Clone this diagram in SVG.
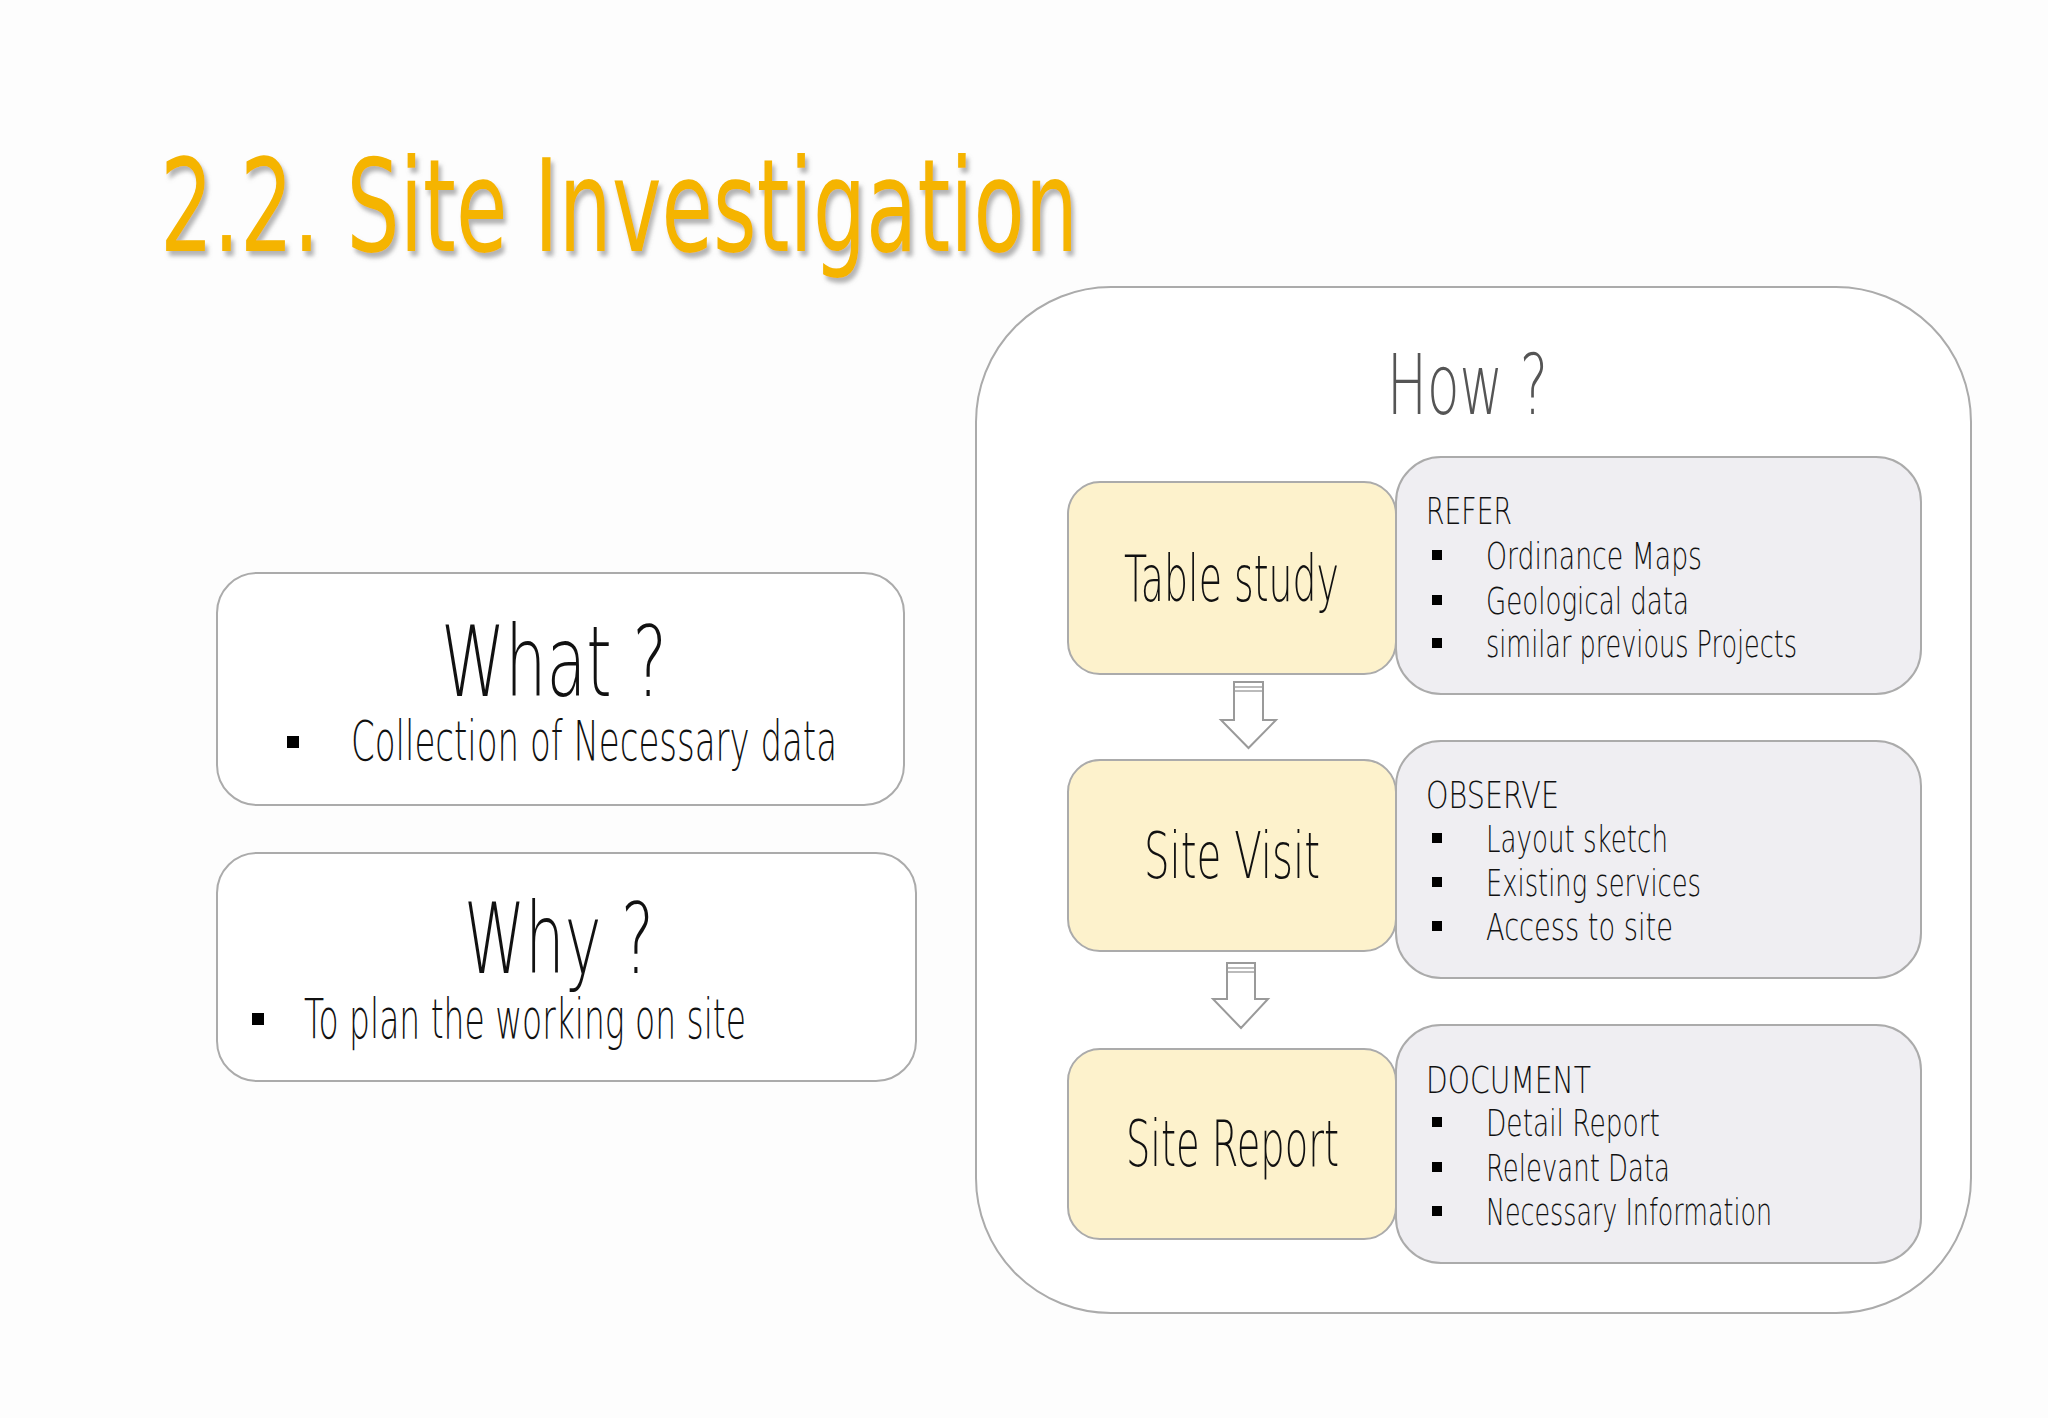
<svg xmlns="http://www.w3.org/2000/svg" width="2048" height="1418" viewBox="0 0 2048 1418">
<style>
.hand{font-family:"DejaVu Sans","Liberation Sans",sans-serif;font-weight:200;fill:#111}
.item{font-size:38px}
.box{fill:#ffffff;stroke:#ababab;stroke-width:2}
.step{fill:#fdf2cc;stroke:#ababab;stroke-width:2}
.info{fill:#efeef2;stroke:#ababab;stroke-width:2}
.arrow{fill:#ffffff;stroke:#9a9a9a;stroke-width:2;stroke-linejoin:miter}
.bul{fill:#000}
</style>
<defs>
<filter id="shadow" x="-5%" y="-20%" width="110%" height="150%">
<feDropShadow dx="3" dy="5" stdDeviation="2" flood-color="#777" flood-opacity="0.55"/>
</filter>
</defs>
<rect width="2048" height="1418" fill="#fdfdfd"/>
<g id="title">
<text x="160" y="251" font-family="DejaVu Sans, sans-serif" font-size="128" fill="#f5b400" textLength="918" lengthAdjust="spacingAndGlyphs" filter="url(#shadow)">2.2. Site Investigation</text>
</g>
<g id="what">
<rect class="box" x="217" y="573" width="687" height="232" rx="40"/>
<text class="hand" x="441" y="696" font-size="98" textLength="226" lengthAdjust="spacingAndGlyphs">What ?</text>
<rect class="bul" x="287" y="736" width="12" height="12"/>
<text class="hand" x="351" y="760" font-size="55" textLength="486" lengthAdjust="spacingAndGlyphs">Collection of Necessary data</text>
</g>
<g id="why">
<rect class="box" x="217" y="853" width="699" height="228" rx="40"/>
<text class="hand" x="464" y="973" font-size="98" textLength="190" lengthAdjust="spacingAndGlyphs">Why ?</text>
<rect class="bul" x="252" y="1013" width="12" height="12"/>
<text class="hand" x="304" y="1038" font-size="55" textLength="442" lengthAdjust="spacingAndGlyphs">To plan the working on site</text>
</g>
<g id="how">
<rect class="box" x="976" y="287" width="995" height="1026" rx="135"/>
<text class="hand" x="1387" y="414" font-size="84" style="fill:#555" textLength="161" lengthAdjust="spacingAndGlyphs">How ?</text>
</g>
<g id="connectors">
<g id="arrow1">
<polygon class="arrow" points="1234,682 1263,682 1263,720 1276,720 1248.5,748 1221,720 1234,720"/>
<line x1="1235" y1="687" x2="1262" y2="687" stroke="#bbb" stroke-width="2"/>
<line x1="1235" y1="691" x2="1262" y2="691" stroke="#bbb" stroke-width="2"/>
</g>
<g id="arrow2">
<polygon class="arrow" points="1227,963 1255,963 1255,999 1268,999 1241,1028 1213,999 1227,999"/>
<line x1="1228" y1="968" x2="1254" y2="968" stroke="#bbb" stroke-width="2"/>
<line x1="1228" y1="972" x2="1254" y2="972" stroke="#bbb" stroke-width="2"/>
</g>
</g>
<g id="refer">
<rect class="info" x="1396" y="457" width="525" height="237" rx="45"/>
<text class="hand item" x="1426" y="524" textLength="86" lengthAdjust="spacingAndGlyphs">REFER</text>
<rect class="bul" x="1432" y="550" width="10" height="10"/>
<text class="hand item" x="1486" y="569" textLength="216" lengthAdjust="spacingAndGlyphs">Ordinance Maps</text>
<rect class="bul" x="1432" y="595" width="10" height="10"/>
<text class="hand item" x="1486" y="614" textLength="203" lengthAdjust="spacingAndGlyphs">Geological data</text>
<rect class="bul" x="1432" y="638" width="10" height="10"/>
<text class="hand item" x="1486" y="657" textLength="311" lengthAdjust="spacingAndGlyphs">similar previous Projects</text>
</g>
<g id="table-study">
<rect class="step" x="1068" y="482" width="328" height="192" rx="32"/>
<text class="hand" x="1124" y="601" font-size="64" textLength="215" lengthAdjust="spacingAndGlyphs">Table study</text>
</g>
<g id="observe">
<rect class="info" x="1396" y="741" width="525" height="237" rx="45"/>
<text class="hand item" x="1426" y="808" textLength="133" lengthAdjust="spacingAndGlyphs">OBSERVE</text>
<rect class="bul" x="1432" y="833" width="10" height="10"/>
<text class="hand item" x="1486" y="852" textLength="182" lengthAdjust="spacingAndGlyphs">Layout sketch</text>
<rect class="bul" x="1432" y="877" width="10" height="10"/>
<text class="hand item" x="1486" y="896" textLength="215" lengthAdjust="spacingAndGlyphs">Existing services</text>
<rect class="bul" x="1432" y="921" width="10" height="10"/>
<text class="hand item" x="1486" y="940" textLength="187" lengthAdjust="spacingAndGlyphs">Access to site</text>
</g>
<g id="site-visit">
<rect class="step" x="1068" y="760" width="328" height="191" rx="32"/>
<text class="hand" x="1144" y="878" font-size="64" textLength="176" lengthAdjust="spacingAndGlyphs">Site Visit</text>
</g>
<g id="document">
<rect class="info" x="1396" y="1025" width="525" height="238" rx="45"/>
<text class="hand item" x="1426" y="1093" textLength="165" lengthAdjust="spacingAndGlyphs">DOCUMENT</text>
<rect class="bul" x="1432" y="1117" width="10" height="10"/>
<text class="hand item" x="1486" y="1136" textLength="174" lengthAdjust="spacingAndGlyphs">Detail Report</text>
<rect class="bul" x="1432" y="1162" width="10" height="10"/>
<text class="hand item" x="1486" y="1181" textLength="184" lengthAdjust="spacingAndGlyphs">Relevant Data</text>
<rect class="bul" x="1432" y="1206" width="10" height="10"/>
<text class="hand item" x="1486" y="1225" textLength="286" lengthAdjust="spacingAndGlyphs">Necessary Information</text>
</g>
<g id="site-report">
<rect class="step" x="1068" y="1049" width="328" height="190" rx="32"/>
<text class="hand" x="1126" y="1166" font-size="64" textLength="213" lengthAdjust="spacingAndGlyphs">Site Report</text>
</g>
</svg>
